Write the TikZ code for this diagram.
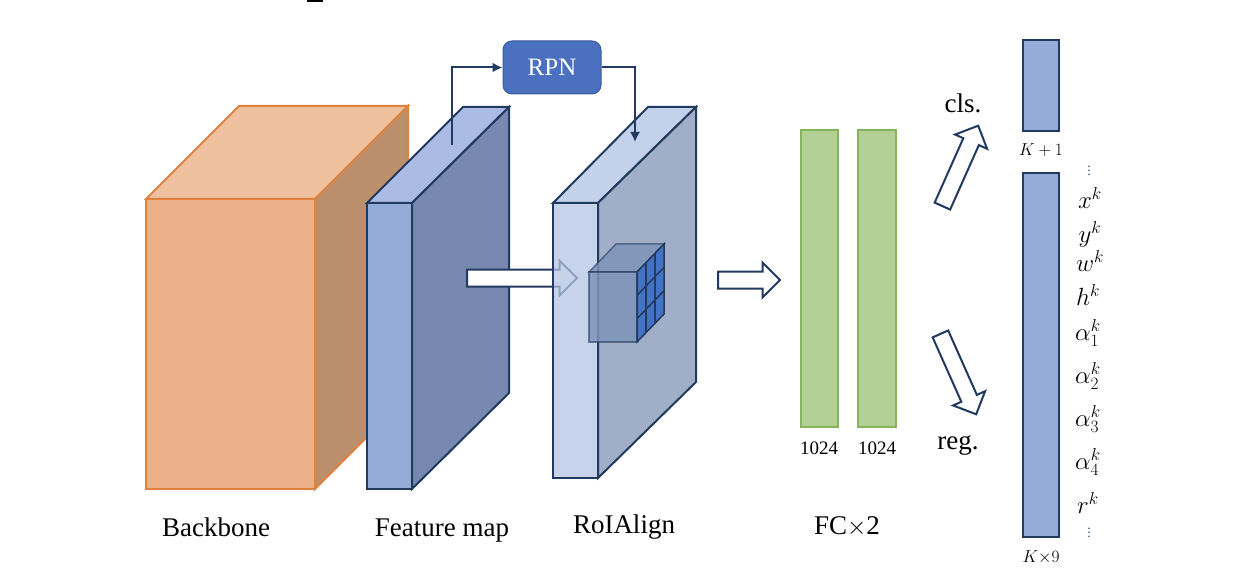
\documentclass[tikz,border=0pt]{standalone}
\usepackage{fontspec}
\setmainfont{Liberation Serif}
\usetikzlibrary{shapes.arrows,calc,arrows.meta}
\definecolor{orS}{HTML}{E0823F}\definecolor{orF}{HTML}{EBB088}\definecolor{orT}{HTML}{EEC09E}\definecolor{orR}{HTML}{BB8F6C}
\definecolor{bS}{HTML}{223A60}\definecolor{bF}{HTML}{95ABD8}\definecolor{bT}{HTML}{AABCE4}\definecolor{bR}{HTML}{7789B0}
\definecolor{rF}{HTML}{B3C4E4}\definecolor{rT}{HTML}{C3D1EA}\definecolor{rR}{HTML}{A0AEC8}
\definecolor{gF}{HTML}{B2CF94}\definecolor{gS}{HTML}{86B35E}
\definecolor{rpn}{HTML}{4A70BF}\definecolor{cub}{HTML}{7F93B8}\definecolor{grid}{HTML}{4472C4}
\definecolor{dots}{HTML}{2F4F80}
\tikzset{
 lbl/.style={font=\fontsize{27}{30}\selectfont,inner sep=0},
 num/.style={font=\fontsize{19}{22}\selectfont,inner sep=0},
 mth/.style={font=\fontsize{27}{30}\selectfont,inner sep=0},
 dt/.style={font=\fontsize{14}{16}\selectfont,inner sep=0,text=dots},
 hol/.style={draw=bS,line width=2pt,fill=white,single arrow,single arrow head extend=9pt,minimum height=62pt,inner xsep=0pt,inner ysep=6pt,single arrow head indent=0pt},
 conn/.style={draw=bS,line width=2pt,-{Latex[length=10pt,width=10pt]}},
}
\begin{document}
\begin{tikzpicture}[x=1pt,y=-1pt,line join=miter]
\useasboundingbox (0,0) rectangle (1240,580);
\fill (307,0) rectangle (323,2);
% Backbone
\filldraw[draw=orS,fill=orT,line width=2pt] (146,199)--(239,106)--(408,106)--(315,199)--cycle;
\filldraw[draw=orS,fill=orR,line width=2pt] (315,199)--(408,106)--(408,396)--(315,489)--cycle;
\filldraw[draw=orS,fill=orF,line width=2pt] (146,199) rectangle (315,489);
% Feature map
\filldraw[draw=bS,fill=bT,line width=2pt] (367,203)--(463,107)--(509,107)--(412,203)--cycle;
\filldraw[draw=bS,fill=bR,line width=2pt] (412,203)--(509,107)--(509,393)--(412,489)--cycle;
\filldraw[draw=bS,fill=bF,line width=2pt] (367,203) rectangle (412,489);
% RoIAlign
\filldraw[draw=bS,fill=rT,line width=2pt] (553,203)--(648,107)--(696,107)--(598,203)--cycle;
\filldraw[draw=bS,fill=rR,line width=2pt] (598,203)--(696,107)--(696,382)--(598,478)--cycle;
% arrow through
\node[hol,minimum height=110pt,anchor=west] (a1) at (466,278) {\rule{0pt}{3pt}};
\filldraw[draw=bS,fill=rF,fill opacity=0.75,line width=2pt] (553,203) rectangle (598,478);
% cube
\begin{scope}[line width=1.5pt]
\filldraw[draw=bS,fill=cub,fill opacity=0.85,draw opacity=0.6] (589,272)--(616,244)--(664,244)--(637,272)--cycle;
\filldraw[draw=bS,fill=cub,fill opacity=0.85,draw opacity=0.6] (589,272) rectangle (637,342);
\filldraw[fill=grid,draw=bS] (637,272)--(664,244)--(664,314)--(637,342)--cycle;
\foreach \t in {1,2}{
 \draw[bS] ($(637,272)!\t/3!(664,244)$) -- ($(637,342)!\t/3!(664,314)$);
 \draw[bS] ($(637,272)!\t/3!(637,342)$) -- ($(664,244)!\t/3!(664,314)$);
}
\end{scope}
% RPN
\node[draw=rpn!80!black,fill=rpn,rounded corners=9pt,line width=1pt,minimum width=98pt,minimum height=53pt,text=white,font=\fontsize{25}{28}\selectfont] (rpn) at (552,67.5) {RPN};
\coordinate (fs) at (452,145);
\coordinate (rt) at (635,142);
\draw[conn] (fs) |- (rpn.west);
\draw[conn] (rpn.east) -| (rt);
% FC arrow
\node[hol,anchor=west] (a2) at (717,280) {\rule{0pt}{3pt}};
% FC bars
\filldraw[draw=gS,fill=gF,line width=2.2pt] (801,130) rectangle (838,427);
\filldraw[draw=gS,fill=gF,line width=2.2pt] (858,130) rectangle (896,427);
\node[num] at (819,448) {1024};
\node[num] at (877,448) {1024};
% heads
\node[hol,rotate=66,minimum height=88pt,anchor=west] (ac) at (942,207) {\rule{0pt}{3pt}};
\node[hol,rotate=-66,minimum height=88pt,anchor=west] (ar) at (940,333) {\rule{0pt}{3pt}};
\node[lbl] at (963,103) {cls.};
\node[lbl] at (958,445) {reg.};
\filldraw[draw=bS,fill=bF,line width=2pt] (1023,40) rectangle (1059,131);
\filldraw[draw=bS,fill=bF,line width=2pt] (1023,173) rectangle (1059,537);
\node[num] at (1041,150) {$K+1$};
\node[num] at (1041,557) {$K{\times}9$};
\node[dt] at (1089,168) {$\vdots$};
\node[mth] at (1090,198) {$x^k$};
\node[mth] at (1090,234) {$y^k$};
\node[mth] at (1090,261) {$w^k$};
\node[mth] at (1088,295) {$h^k$};
\node[mth] at (1088,333) {$\alpha_1^k$};
\node[mth] at (1088,376) {$\alpha_2^k$};
\node[mth] at (1088,419) {$\alpha_3^k$};
\node[mth] at (1088,462) {$\alpha_4^k$};
\node[mth] at (1088,503) {$r^k$};
\node[dt] at (1089,530) {$\vdots$};
% labels
\node[lbl] at (216,527) {Backbone};
\node[lbl] at (442,531) {Feature map};
\node[lbl] at (624,527) {RoIAlign};
\node[lbl] at (847,527) {FC$\times$2};
\end{tikzpicture}
\end{document}
